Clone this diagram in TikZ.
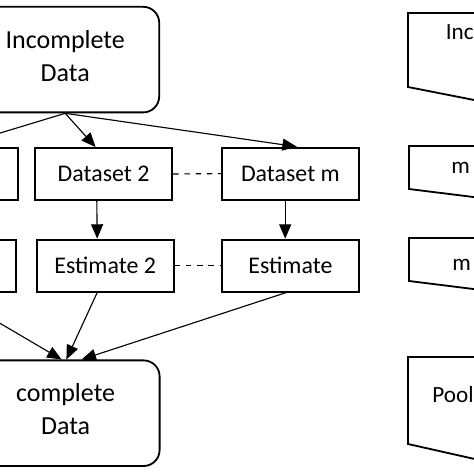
\documentclass[tikz,border=0pt]{standalone}
\usepackage{fontspec}
\setmainfont{Carlito}
\usetikzlibrary{arrows.meta}

\begin{document}
\begin{tikzpicture}[
  box/.style={draw, line width=1.3pt, minimum width=3.425cm, minimum height=1.3cm, font=\fontsize{17}{20}\selectfont},
  rbox/.style={draw, line width=1.3pt, rounded corners=0.4cm, minimum width=4.7cm, minimum height=2.64cm, align=center, text depth=0.2cm, font=\fontsize{18.5}{23.5}\selectfont},
  arr/.style={-{Triangle[length=0.36cm, width=0.3cm]}, line width=0.8pt},
  link/.style={line width=0.8pt, dash pattern=on 4pt off 4pt},
  slab/.style={line width=1.3pt},
  lbl/.style={anchor=base west, inner sep=0pt, font=\fontsize{16.5}{20}\selectfont}
]
  \useasboundingbox (0,0) rectangle (11.85,-11.85);
  \clip (0,0) rectangle (11.85,-11.85);

  % Imputation flow
  \node[rbox] (inc) at (1.63,-1.49) {Incomplete\\Data};
  \node[box] (ds1) at (-1.26,-4.35) {};
  \node[box] (ds2) at (2.59,-4.35) {Dataset 2};
  \node[box] (dsm) at (7.26,-4.34) {Dataset m};
  \node[box] (es1) at (-1.31,-6.64) {};
  \node[box] (es2) at (2.63,-6.64) {Estimate 2};
  \node[box] (esm) at (7.26,-6.64) {Estimate};
  \node[rbox] (comp) at (1.64,-10.33) {complete\\Data};

  \draw[arr] (inc.south) -- ([xshift=0.1cm]ds1.north);
  \draw[arr] (inc.south) -- ([xshift=-0.2cm]ds2.north);
  \draw[arr] (inc.south) -- ([xshift=0.16cm]dsm.north);
  \draw[link] (ds2.east) -- (dsm.west);

  \draw[arr] ([xshift=-0.17cm]ds2.south) -- ([xshift=-0.2cm]es2.north);
  \draw[arr] ([xshift=-0.13cm]dsm.south) -- ([xshift=-0.13cm]esm.north);
  \draw[link] (es2.east) -- (esm.west);

  \draw[arr] (es1.south) -- ([xshift=-0.1cm]comp.north);
  \draw[arr] ([xshift=-0.2cm]es2.south) -- ([xshift=0.02cm]comp.north);
  \draw[arr] ([xshift=-0.1cm]esm.south) -- ([xshift=0.4cm]comp.north);

  % Right column
  \draw[slab] (13,-0.325) -- (10.2,-0.325) -- (10.2,-2.175) -- (13,-2.725);
  \node[lbl] (rinc) at (11.14,-0.975) {Inc};
  \draw[slab] (13,-3.65) -- (10.225,-3.65) -- (10.225,-4.725) -- (13,-5.07);
  \node[lbl] (rm1) at (11.275,-4.325) {m};
  \draw[slab] (13,-5.95) -- (10.225,-5.95) -- (10.225,-7.025) -- (13,-7.37);
  \node[lbl] (rm2) at (11.3,-6.75) {m};
  \draw[slab] (13,-8.925) -- (10.2,-8.925) -- (10.2,-11.1) -- (13,-11.73);
  \node[lbl] (rpool) at (10.8,-10.05) {Pool};
\end{tikzpicture}
\end{document}
